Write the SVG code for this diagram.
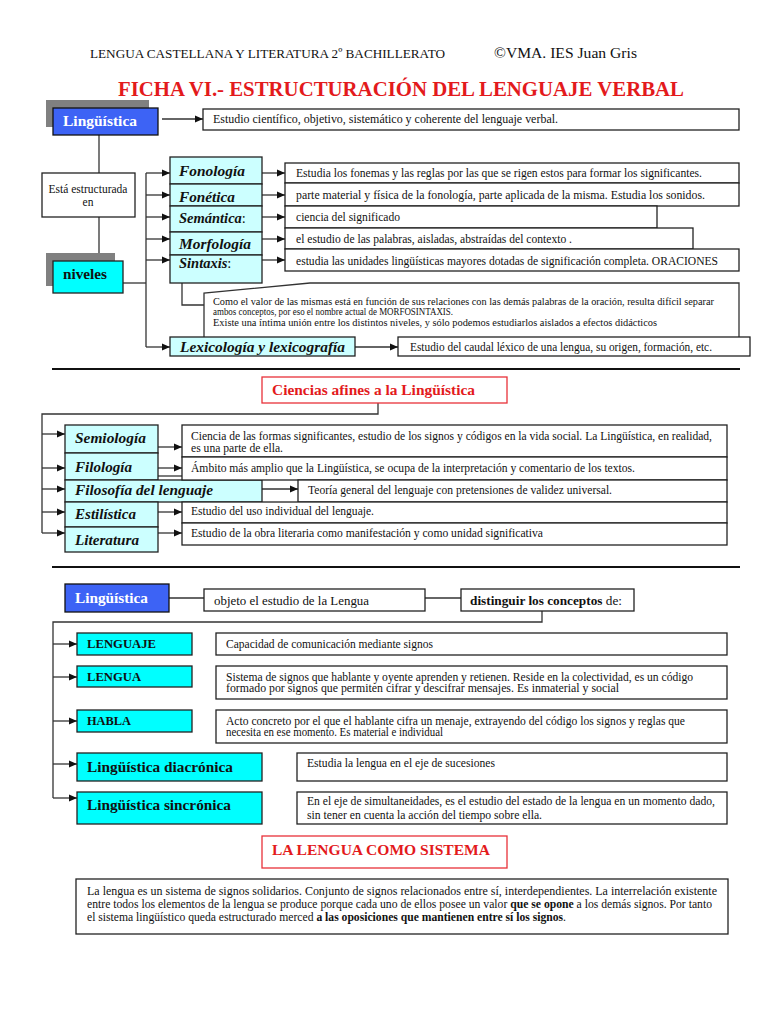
<svg xmlns="http://www.w3.org/2000/svg" width="768" height="1024" viewBox="0 0 768 1024">
<defs>
<marker id="ah" viewBox="0 0 10 10" refX="10" refY="5" markerWidth="8" markerHeight="8" markerUnits="userSpaceOnUse" orient="auto"><path d="M0,0.5 L10,5 L0,9.5 z" fill="#111"/></marker>
<clipPath id="clipLex"><rect x="170" y="337" width="185" height="19"/></clipPath>
<style>
.t{font-family:"Liberation Serif","Times New Roman",serif;fill:#111}
.s11{font-size:11.5px}
.s10{font-size:10px}
.bi{font-weight:bold;font-style:italic;font-size:14.5px}
.b{font-weight:bold}
.red{fill:#e31a1c}
.white{fill:#fff}
.desc{fill:#fff;stroke:#222;stroke-width:1.3}
.cyan{fill:#ccffff;stroke:#222;stroke-width:1.3}
.aqua{fill:#00ffff;stroke:#222;stroke-width:1.3}
.blue{fill:#3d63f5;stroke:#111;stroke-width:1.3}
.shadow{fill:#808080}
.redbox{fill:#fff;stroke:#e8323a;stroke-width:1.3}
.conn{stroke:#333;stroke-width:1.3;fill:none}
.arr{stroke:#333;stroke-width:1.3;fill:none;marker-end:url(#ah)}
.sep{stroke:#111;stroke-width:2.2}
</style>
</defs>
<rect width="768" height="1024" fill="#fff"/>

<g id="header">
<text class="t" x="90" y="58" font-size="13.5" textLength="355" lengthAdjust="spacingAndGlyphs">LENGUA CASTELLANA  Y LITERATURA 2º BACHILLERATO</text>
<text class="t" x="494" y="58" font-size="15" textLength="143" lengthAdjust="spacingAndGlyphs">©VMA. IES Juan Gris</text>
<text class="t red b" x="118" y="96" font-size="22" textLength="566" lengthAdjust="spacingAndGlyphs">FICHA VI.- ESTRUCTURACIÓN DEL LENGUAJE VERBAL</text>
</g>

<g id="connectors">
<line class="arr" x1="162" y1="119" x2="203" y2="119"/>
<line class="conn" x1="99" y1="135" x2="99" y2="173"/>
<line class="conn" x1="99" y1="217" x2="99" y2="261"/>
<line class="conn" x1="123" y1="283" x2="146" y2="283"/>
<line class="conn" x1="146" y1="173" x2="146" y2="347"/>
<line class="arr" x1="146" y1="173" x2="170" y2="173"/>
<line class="arr" x1="146" y1="195" x2="170" y2="195"/>
<line class="arr" x1="146" y1="217" x2="170" y2="217"/>
<line class="arr" x1="146" y1="239" x2="170" y2="239"/>
<line class="arr" x1="146" y1="260" x2="170" y2="260"/>
<line class="arr" x1="146" y1="347" x2="170" y2="347"/>
<line class="arr" x1="262" y1="173" x2="285" y2="173"/>
<line class="arr" x1="262" y1="195" x2="285" y2="195"/>
<line class="arr" x1="262" y1="217" x2="285" y2="217"/>
<line class="arr" x1="262" y1="239" x2="285" y2="239"/>
<line class="arr" x1="262" y1="260" x2="285" y2="260"/>
<line class="arr" x1="355" y1="347" x2="398" y2="347"/>
<polyline class="conn" points="182,283 182,305 204,305"/>

<polyline class="conn" points="378,403 378,414 42,414 42,533"/>
<line class="arr" x1="42" y1="434" x2="65" y2="434"/>
<line class="arr" x1="42" y1="468" x2="65" y2="468"/>
<line class="arr" x1="42" y1="489" x2="65" y2="489"/>
<line class="arr" x1="42" y1="512" x2="65" y2="512"/>
<line class="arr" x1="42" y1="533" x2="65" y2="533"/>
<line class="arr" x1="158" y1="447" x2="182" y2="447"/>
<line class="arr" x1="158" y1="468" x2="182" y2="468"/>
<line class="conn" x1="158" y1="476" x2="182" y2="476"/>
<line class="arr" x1="262" y1="489" x2="298" y2="489"/>
<line class="arr" x1="158" y1="512" x2="182" y2="512"/>
<line class="arr" x1="158" y1="533" x2="182" y2="533"/>

<line class="conn" x1="169" y1="598" x2="204" y2="598"/>
<line class="conn" x1="425" y1="598" x2="461" y2="598"/>
<polyline class="conn" points="542,611 542,622 53,622 53,798"/>
<line class="arr" x1="53" y1="644" x2="77" y2="644"/>
<line class="arr" x1="53" y1="677" x2="77" y2="677"/>
<line class="arr" x1="53" y1="721" x2="77" y2="721"/>
<line class="arr" x1="53" y1="764" x2="77" y2="764"/>
<line class="arr" x1="53" y1="798" x2="77" y2="798"/>
</g>

<g id="separators">
<line class="sep" x1="52" y1="369" x2="740" y2="369"/>
<line class="sep" x1="52" y1="567" x2="740" y2="567"/>
</g>

<g id="linguistica-top">
<rect class="shadow" x="46" y="100" width="103" height="27"/>
<rect class="blue" x="53" y="108" width="105" height="27"/>
<text class="t b white" x="63" y="126" font-size="15" textLength="74" lengthAdjust="spacingAndGlyphs">Lingüística</text>
</g>
<g id="def-linguistica">
<rect class="desc" x="203" y="109" width="536" height="21"/>
<text class="t s11" x="213" y="123" textLength="345" lengthAdjust="spacingAndGlyphs">Estudio científico, objetivo, sistemático y coherente del lenguaje verbal.</text>
</g>
<g id="estructurada">
<rect class="desc" x="42" y="173" width="93" height="44"/>
<text class="t" x="88" y="193" font-size="11.5" text-anchor="middle">Está estructurada</text>
<text class="t" x="88" y="206" font-size="11.5" text-anchor="middle">en</text>
</g>
<g id="niveles">
<rect class="shadow" x="46" y="253" width="69" height="33"/>
<rect class="aqua" x="53" y="261" width="70" height="32"/>
<text class="t b" x="63" y="279" font-size="15" textLength="44" lengthAdjust="spacingAndGlyphs">niveles</text>
</g>

<g id="fonologia"><rect class="cyan" x="170" y="157" width="92" height="27"/><text class="t bi" x="179" y="176" textLength="66" lengthAdjust="spacingAndGlyphs">Fonología</text></g>
<g id="fonetica"><rect class="cyan" x="170" y="184" width="92" height="22"/><text class="t bi" x="179" y="202" textLength="56" lengthAdjust="spacingAndGlyphs">Fonética</text></g>
<g id="semantica"><rect class="cyan" x="170" y="206" width="92" height="26"/><text class="t" x="179" y="223" font-size="14.5"><tspan class="bi">Semántica</tspan>:</text></g>
<g id="morfologia"><rect class="cyan" x="170" y="232" width="92" height="23"/><text class="t bi" x="179" y="249" textLength="72" lengthAdjust="spacingAndGlyphs">Morfología</text></g>
<g id="sintaxis"><rect class="cyan" x="170" y="255" width="92" height="28"/><text class="t" x="179" y="268" font-size="14.5"><tspan class="bi">Sintaxis</tspan>:</text></g>

<g id="def-fonologia"><rect class="desc" x="285" y="163" width="454" height="20"/><text class="t s11" x="296" y="177" textLength="406" lengthAdjust="spacingAndGlyphs">Estudia los fonemas y las reglas por las que se rigen estos para formar los significantes.</text></g>
<g id="def-fonetica"><rect class="desc" x="285" y="183" width="454" height="23"/><text class="t s11" x="296" y="199" textLength="409" lengthAdjust="spacingAndGlyphs">parte material y física de la fonología, parte aplicada de la misma. Estudia los sonidos.</text></g>
<g id="def-semantica"><rect class="desc" x="285" y="206" width="372" height="22"/><text class="t s11" x="296" y="221" textLength="104" lengthAdjust="spacingAndGlyphs">ciencia del significado</text></g>
<g id="def-morfologia"><rect class="desc" x="285" y="228" width="408" height="21"/><text class="t s11" x="296" y="243" textLength="276" lengthAdjust="spacingAndGlyphs">el estudio de las palabras, aisladas, abstraídas del contexto .</text></g>
<g id="def-sintaxis"><rect class="desc" x="285" y="249" width="454" height="22"/><text class="t s11" x="296" y="265" textLength="422" lengthAdjust="spacingAndGlyphs">estudia las unidades lingüísticas mayores dotadas de significación completa. ORACIONES</text></g>

<g id="callout">
<path d="M204,337 L204,293 L310,283 L739,283 L739,337" fill="#fff" stroke="#333" stroke-width="1.3"/>
<text class="t s10" x="213" y="304.5" textLength="501" lengthAdjust="spacingAndGlyphs">Como el valor de las mismas está en función de sus relaciones con las demás palabras de la oración, resulta difícil separar</text>
<text class="t s10" x="213" y="315" textLength="240" lengthAdjust="spacingAndGlyphs">ambos conceptos, por eso el nombre actual de MORFOSINTAXIS.</text>
<text class="t s10" x="213" y="325.5" textLength="444" lengthAdjust="spacingAndGlyphs">Existe una íntima unión entre los distintos niveles, y sólo podemos estudiarlos aislados a efectos didácticos</text>
</g>

<g id="lexicologia">
<rect class="cyan" x="170" y="337" width="185" height="19"/>
<text class="t bi" x="180" y="352" textLength="165" lengthAdjust="spacingAndGlyphs" clip-path="url(#clipLex)">Lexicología y lexicografía</text>
</g>
<g id="def-lexicologia"><rect class="desc" x="398" y="337" width="352" height="19"/><text class="t" x="410" y="351" font-size="11.5" textLength="302" lengthAdjust="spacingAndGlyphs">Estudio del caudal léxico de una lengua, su origen, formación, etc.</text></g>

<g id="ciencias-afines"><rect class="redbox" x="262" y="377" width="245" height="26"/><text class="t b red" x="272" y="395" font-size="15" textLength="203" lengthAdjust="spacingAndGlyphs">Ciencias afines a la Lingüística</text></g>

<g id="semiologia"><rect class="cyan" x="65" y="425" width="93" height="28"/><text class="t bi" x="75" y="443" textLength="71" lengthAdjust="spacingAndGlyphs">Semiología</text></g>
<g id="filologia"><rect class="cyan" x="65" y="453" width="93" height="27"/><text class="t bi" x="75" y="472" textLength="57" lengthAdjust="spacingAndGlyphs">Filología</text></g>
<g id="filosofia"><rect class="cyan" x="65" y="480" width="197" height="22"/><text class="t bi" x="75" y="495" textLength="138" lengthAdjust="spacingAndGlyphs">Filosofía del lenguaje</text></g>
<g id="estilistica"><rect class="cyan" x="65" y="502" width="93" height="25"/><text class="t bi" x="75" y="519" textLength="61" lengthAdjust="spacingAndGlyphs">Estilística</text></g>
<g id="literatura"><rect class="cyan" x="65" y="527" width="93" height="25"/><text class="t bi" x="75" y="545" textLength="64" lengthAdjust="spacingAndGlyphs">Literatura</text></g>

<g id="def-semiologia"><rect class="desc" x="182" y="425" width="545" height="32"/>
<text class="t s11" x="191" y="440" textLength="521" lengthAdjust="spacingAndGlyphs">Ciencia de las formas significantes, estudio de los signos y códigos en la vida social. La Lingüística, en realidad,</text>
<text class="t s11" x="191" y="452" textLength="92" lengthAdjust="spacingAndGlyphs">es una parte de ella.</text></g>
<g id="def-filologia"><rect class="desc" x="182" y="457" width="545" height="23"/><text class="t s11" x="191" y="472" textLength="444" lengthAdjust="spacingAndGlyphs">Ámbito más amplio que la Lingüística, se ocupa de la interpretación y comentario de los textos.</text></g>
<g id="def-filosofia"><rect class="desc" x="298" y="480" width="429" height="22"/><text class="t s11" x="308" y="494" textLength="304" lengthAdjust="spacingAndGlyphs">Teoría general del lenguaje con pretensiones de validez universal.</text></g>
<g id="def-estilistica"><rect class="desc" x="182" y="502" width="545" height="21"/><text class="t s11" x="191" y="515" textLength="183" lengthAdjust="spacingAndGlyphs">Estudio del uso individual del lenguaje.</text></g>
<g id="def-literatura"><rect class="desc" x="182" y="523" width="545" height="22"/><text class="t s11" x="191" y="537" textLength="352" lengthAdjust="spacingAndGlyphs">Estudio de la obra literaria como manifestación y como unidad significativa</text></g>

<g id="linguistica-2"><rect class="blue" x="65" y="584" width="104" height="28"/><text class="t b white" x="75" y="603" font-size="15" textLength="73" lengthAdjust="spacingAndGlyphs">Lingüística</text></g>
<g id="objeto"><rect class="desc" x="204" y="589" width="221" height="22"/><text class="t" x="214" y="605" font-size="12" textLength="155" lengthAdjust="spacingAndGlyphs">objeto el estudio de la Lengua</text></g>
<g id="distinguir"><rect class="desc" x="461" y="589" width="173" height="22"/><text class="t" x="470" y="605" font-size="12" textLength="152" lengthAdjust="spacingAndGlyphs"><tspan class="b">distinguir los conceptos</tspan> de:</text></g>

<g id="lenguaje"><rect class="aqua" x="77" y="633" width="115" height="22"/><text class="t b" x="87" y="648" font-size="12.5" textLength="69" lengthAdjust="spacingAndGlyphs">LENGUAJE</text></g>
<g id="lengua"><rect class="aqua" x="77" y="666" width="115" height="21"/><text class="t b" x="87" y="681" font-size="12.5" textLength="54" lengthAdjust="spacingAndGlyphs">LENGUA</text></g>
<g id="habla"><rect class="aqua" x="77" y="710" width="115" height="22"/><text class="t b" x="87" y="725" font-size="12.5" textLength="44" lengthAdjust="spacingAndGlyphs">HABLA</text></g>
<g id="diacronica"><rect class="aqua" x="77" y="753" width="185" height="28"/><text class="t b" x="87" y="772" font-size="15.5" textLength="146" lengthAdjust="spacingAndGlyphs">Lingüística diacrónica</text></g>
<g id="sincronica"><rect class="aqua" x="77" y="792" width="185" height="32"/><text class="t b" x="87" y="810" font-size="15.5" textLength="144" lengthAdjust="spacingAndGlyphs">Lingüística sincrónica</text></g>

<g id="def-lenguaje"><rect class="desc" x="216" y="633" width="511" height="22"/><text class="t" x="226" y="648" font-size="11.5" textLength="207" lengthAdjust="spacingAndGlyphs">Capacidad de comunicación mediante signos</text></g>
<g id="def-lengua"><rect class="desc" x="216" y="666" width="511" height="33"/>
<text class="t" x="226" y="681" font-size="11.5" textLength="467" lengthAdjust="spacingAndGlyphs">Sistema de signos que hablante y oyente aprenden y retienen. Reside en la colectividad, es un código</text>
<text class="t" x="226" y="692" font-size="11.5" textLength="393" lengthAdjust="spacingAndGlyphs">formado por signos que permiten cifrar y descifrar mensajes. Es inmaterial y social</text></g>
<g id="def-habla"><rect class="desc" x="216" y="710" width="511" height="33"/>
<text class="t" x="226" y="725" font-size="11.5" textLength="459" lengthAdjust="spacingAndGlyphs">Acto concreto por el que el hablante cifra un menaje, extrayendo del código los signos y reglas que</text>
<text class="t" x="226" y="736" font-size="11.5" textLength="217" lengthAdjust="spacingAndGlyphs">necesita en ese momento. Es material e individual</text></g>
<g id="def-diacronica"><rect class="desc" x="297" y="753" width="430" height="28"/><text class="t" x="307" y="767" font-size="11.5" textLength="188" lengthAdjust="spacingAndGlyphs">Estudia la lengua en el eje de sucesiones</text></g>
<g id="def-sincronica"><rect class="desc" x="297" y="792" width="430" height="32"/>
<text class="t" x="307" y="805" font-size="11.5" textLength="408" lengthAdjust="spacingAndGlyphs">En el eje de simultaneidades, es el estudio del estado de la lengua en un momento dado,</text>
<text class="t" x="307" y="819" font-size="11.5" textLength="235" lengthAdjust="spacingAndGlyphs">sin tener en cuenta la acción del tiempo sobre ella.</text></g>

<g id="lengua-sistema"><rect class="redbox" x="262" y="836" width="245" height="32"/><text class="t b red" x="272" y="855" font-size="14.5" textLength="218" lengthAdjust="spacingAndGlyphs">LA LENGUA COMO SISTEMA</text></g>
<g id="sistema-texto"><rect class="desc" x="76" y="879" width="652" height="55"/>
<text class="t" x="87" y="895" font-size="11.5" textLength="630" lengthAdjust="spacingAndGlyphs">La lengua es un sistema de signos solidarios. Conjunto de signos relacionados entre sí,  interdependientes. La interrelación existente</text>
<text class="t" x="87" y="908" font-size="11.5" textLength="625" lengthAdjust="spacingAndGlyphs">entre todos los elementos de la lengua se produce porque cada uno de ellos posee un valor <tspan class="b">que se opone</tspan> a los demás signos. Por tanto</text>
<text class="t" x="87" y="921" font-size="11.5" textLength="479" lengthAdjust="spacingAndGlyphs">el sistema lingüístico queda estructurado merced <tspan class="b">a las oposiciones que mantienen entre sí los signos</tspan>.</text>
</g>
</svg>
